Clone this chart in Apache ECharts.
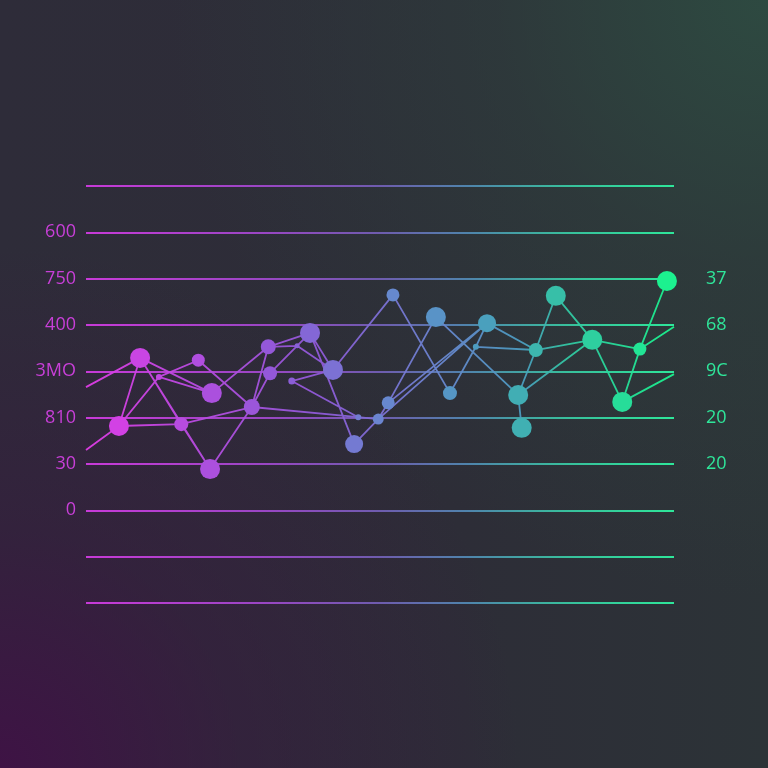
<!DOCTYPE html>
<html>
<head>
<meta charset="utf-8">
<script src="https://cdn.jsdelivr.net/npm/echarts@6/dist/echarts.min.js"></script>
<style>
html,body{margin:0;padding:0;width:768px;height:768px;overflow:hidden;}
body{
  background:
    radial-gradient(circle at 0% 100%, rgba(64,16,70,0.9) 0%, rgba(56,24,64,0.5) 22%, rgba(46,40,56,0) 48%),
    radial-gradient(circle at 100% 0%, rgba(46,76,66,0.9) 0%, rgba(46,66,62,0.5) 25%, rgba(46,58,60,0) 55%),
    linear-gradient(90deg, #2e2c39 0%, #2d2d37 60%, #2c3337 100%);
}
#c{width:768px;height:768px;}
</style>
</head>
<body>
<div id="c"></div>
<script>
// y-axis tick labels (index = grid line, bottom to top)
const leftLabels  = ['', '', '0', '30', '810', '3MO', '400', '750', '600', ''];
const rightLabels = ['', '', '', '20', '20', '9C', '68', '37', '', ''];

// network nodes
const nodeNames = ['s1','s2','A','B','C','D','E','F','G','H','I','J','K','L','M','N','O','P','Q','R','S','U','V','W','X','Y','Z','AA','AB','AD','AE','AF','AG','e1','e2'];
const nodeX = [0,0,9.2,5.6,16.2,21.1,21.4,19.1,12.4,28.2,31.0,31.3,38.1,35.0,35.9,42.0,52.2,45.6,46.3,49.7,51.4,61.9,59.5,68.2,66.3,76.5,73.5,74.1,79.9,86.1,94.2,91.2,98.8,100,100];
const nodeY = [4.66,3.30,5.29,3.82,3.86,2.89,4.53,5.24,4.88,4.23,5.53,4.96,5.83,4.79,5.55,5.03,6.65,3.43,4.01,3.97,4.32,4.53,6.17,6.04,5.53,5.46,4.49,3.78,6.63,5.68,5.48,4.34,6.95,5.96,4.94];
const nodeWeight = [0,0,20,20,14,20,20,13,6,16,15,14,20,7,5,20,13,18,6,11,13,14,20,18,6,14,20,20,20,20,13,20,20,0,0];

// links between nodes
const edges = [
  ['s1','A'],['s2','B'],['A','B'],['A','C'],['A','D'],['C','D'],['A','E'],['B','C'],['B','G'],['G','F'],['G','E'],
  ['F','H'],['C','H'],['D','H'],['E','I'],['H','I'],['H','J'],['J','K'],['I','K'],['I','M'],['M','N'],['K','N'],
  ['K','P'],['N','L'],['L','Q'],['Q','R'],['H','Q'],['P','R'],['R','S'],['N','O'],['O','U'],['S','V'],['S','W'],
  ['R','W'],['U','X'],['X','W'],['X','Y'],['W','Y'],['V','Z'],['Y','Z'],['Z','AA'],['Y','AB'],['AB','AD'],['Y','AD'],
  ['Z','AD'],['AD','AE'],['AD','AF'],['AF','AE'],['AE','AG'],['AE','e1'],['AF','e2']
];

const idx = {};
nodeNames.forEach((n, i) => idx[n] = i);

const edgeData = [];
edges.forEach(([a, b]) => {
  const i = idx[a], j = idx[b];
  edgeData.push([nodeX[i], nodeY[i]]);
  edgeData.push([nodeX[j], nodeY[j]]);
  edgeData.push([nodeX[j], '-']);
});
const nodeData = [];
nodeNames.forEach((n, i) => { if (nodeWeight[i] > 0) nodeData.push([nodeX[i], nodeY[i], nodeWeight[i]]); });

const GL = 86, GR = 674;
const netStops = [
  {offset:0, color:'#e03ce6'}, {offset:0.2, color:'#b64ce0'}, {offset:0.4, color:'#8f5ad8'},
  {offset:0.6, color:'#6a86d0'}, {offset:0.74, color:'#4c9cc0'}, {offset:0.82, color:'#32c8a2'},
  {offset:1, color:'#1af48e'}
];
const gridStops = [
  {offset:0, color:'#c83ad8'}, {offset:0.3, color:'#9a46c4'}, {offset:0.5, color:'#6e5cae'},
  {offset:0.65, color:'#4f84ac'}, {offset:0.82, color:'#38c09c'}, {offset:1, color:'#2ee69a'}
];
function grad(stops){
  return {type:'linear', x:GL, y:0, x2:GR, y2:0, global:true, colorStops:stops};
}

const chart = echarts.init(document.getElementById('c'), null, {renderer:'canvas'});
chart.setOption({
  backgroundColor: 'transparent',
  animation: false,
  grid: {left: GL, right: 768 - GR, top: 186, bottom: 165, containLabel: false},
  xAxis: {type:'value', min:0, max:100, show:false},
  yAxis: [
    {
      type:'value', min:0, max:9, interval:1, position:'left',
      axisLine:{show:false}, axisTick:{show:false},
      splitLine:{show:true, lineStyle:{color:grad(gridStops), width:2}},
      axisLabel:{margin:10, color:'#c83fd8', fontSize:18, fontFamily:'Open Sans',
        formatter: v => leftLabels[Math.round(v)] || ''}
    },
    {
      type:'value', min:0, max:9, interval:1, position:'right',
      axisLine:{show:false}, axisTick:{show:false}, splitLine:{show:false},
      axisLabel:{margin:32, color:'#2fe69a', fontSize:18, fontFamily:'Open Sans', align:'left',
        formatter: v => rightLabels[Math.round(v)] || ''}
    }
  ],
  visualMap: {
    show:false, type:'continuous', dimension:0, min:0, max:100, seriesIndex:1,
    inRange:{color: netStops.map(s => s.color)}
  },
  series: [
    {
      type:'line', data: edgeData, showSymbol:false, connectNulls:false, z:2,
      lineStyle:{color:grad(netStops), width:1.8, opacity:0.95}
    },
    {
      type:'scatter', data: nodeData, z:3,
      symbolSize: v => v[2],
      itemStyle:{opacity:1}
    }
  ]
});
</script>
</body>
</html>
